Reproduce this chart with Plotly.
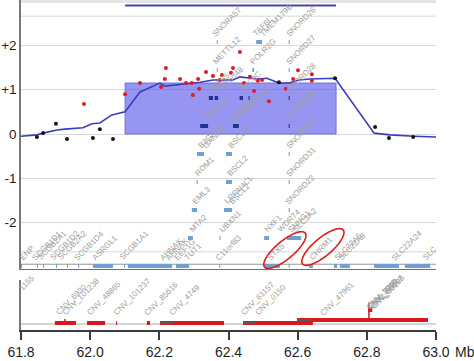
import math
import plotly.graph_objects as go

# ---------------- data ----------------
# smoothed copy-number profile (Mb, log-ratio)
seg_x = [61.800, 61.846, 61.864, 61.904, 61.927, 61.979, 62.005, 62.028, 62.063, 62.101,
         62.144, 62.193, 62.202, 62.216, 62.280, 62.318, 62.355, 62.413, 62.433, 62.462,
         62.482, 62.511, 62.546, 62.575, 62.604, 62.636, 62.708, 62.821, 62.867, 62.936, 63.003]
seg_y = [-0.05, -0.02, 0.02, 0.09, 0.11, 0.14, 0.23, 0.25, 0.43, 0.50,
         0.95, 1.11, 1.15, 1.08, 1.13, 1.17, 1.22, 1.22, 1.29, 1.26,
         1.24, 1.26, 1.15, 1.15, 1.22, 1.24, 1.26, 0.02, -0.02, -0.05, -0.07]

# probes called as gained (red) and neutral (black)
gain_x = [61.982, 62.101, 62.144, 62.219, 62.216, 62.205, 62.260, 62.277, 62.294, 62.297,
          62.312, 62.315, 62.335, 62.355, 62.375, 62.381, 62.407, 62.413, 62.433, 62.445,
          62.462, 62.474, 62.485, 62.497, 62.517, 62.566, 62.587, 62.601, 62.641, 62.641]
gain_y = [0.68, 0.90, 1.15, 1.49, 1.24, 1.06, 1.24, 1.15, 1.15, 0.88,
          1.24, 1.02, 1.40, 1.31, 1.22, 1.33, 1.38, 1.49, 1.85, 1.15,
          1.29, 0.97, 1.20, 1.22, 0.74, 1.02, 1.24, 1.44, 1.35, 1.20]
neutral_x = [61.846, 61.864, 61.901, 61.933, 62.008, 62.028, 62.066, 62.546, 62.708,
             62.824, 62.864, 62.934]
neutral_y = [-0.07, 0.02, 0.23, -0.11, -0.09, 0.11, -0.11, 1.17, 1.26,
             0.16, -0.09, -0.07]

# called gained segment
box_start = 62.101
box_end = 62.711
box_value = 1.15
region_level = 2.90

# gene track: blocks (start, end, slot)
gene_start = [62.480, 62.366, 62.574,
              62.366, 62.469, 62.574,
              62.343, 62.360, 62.432, 62.458, 62.574,
              62.318, 62.413, 62.574,
              62.309, 62.393, 62.574,
              62.308, 62.393, 62.574,
              62.294, 62.387, 62.574,
              62.283, 62.374, 62.503, 62.569,
              62.008, 62.109, 62.248, 62.503, 62.574, 62.633, 62.705, 62.722, 62.821, 62.910,
              61.800, 61.846, 61.864, 61.901, 61.933, 61.965, 62.098, 62.373]
gene_end = [62.497, 62.369, 62.577,
            62.369, 62.474, 62.577,
            62.355, 62.370, 62.442, 62.461, 62.577,
            62.341, 62.430, 62.577,
            62.329, 62.410, 62.577,
            62.311, 62.410, 62.577,
            62.309, 62.410, 62.577,
            62.297, 62.377, 62.517, 62.610,
            62.066, 62.237, 62.286, 62.549, 62.577, 62.644, 62.714, 62.751, 62.893, 62.983,
            61.803, 61.849, 61.867, 61.904, 61.936, 61.968, 62.101, 62.376]
gene_slot = [1, 1, 1,
             2, 2, 2,
             3, 3, 3, 3, 3,
             4, 4, 4,
             5, 5, 5,
             6, 6, 6,
             7, 7, 7,
             8, 8, 8, 8,
             9, 9, 9, 9, 9, 9, 9, 9, 9, 9,
             9, 9, 9, 9, 9, 9, 9, 9]

gene_names = ["SNORA57", "TAF6L", "TMEM179B", "SNORD26",
              "METTL12", "POLR2G", "SNORD27",
              "INTS5", "C11orf48", "TTC9C", "SNORD28",
              "GANAB", "GNG3", "HNRNPUL2", "SNORD29",
              "B3GAT3", "GANAB", "BSCL2", "SNORD30",
              "ROM1", "BSCL2", "SNORD31",
              "EML3", "LRRN4CL", "BSCL2", "SNORD22",
              "MTA2", "UBXN1", "NXF1", "WDR74", "SNHG1", "SLC3A2",
              "ENP", "SCGB1D1", "SCGB2A1", "SCGB1D2", "SCGB2A2", "SCGB1D4", "ASRGL1",
              "SCGB1A1", "AHNAK", "AHNAK", "EEF1G", "TUT1", "C11orf83", "STX5",
              "CHRM1", "SLC22A6", "SLC22A8", "SLC22A24", "SLC"]
gene_label_x = [62.361, 62.477, 62.497, 62.575,
                62.361, 62.471, 62.575,
                62.355, 62.375, 62.442, 62.575,
                62.338, 62.413, 62.430, 62.575,
                62.318, 62.332, 62.407, 62.575,
                62.309, 62.404, 62.575,
                62.303, 62.396, 62.410, 62.572,
                62.294, 62.381, 62.511, 62.549, 62.578, 62.592,
                61.803, 61.840, 61.855, 61.890, 61.913, 61.962, 62.014,
                62.092, 62.208, 62.225, 62.251, 62.280, 62.370, 62.520,
                62.641, 62.714, 62.725, 62.879, 62.968]
gene_label_slot = [1, 1, 1, 1,
                   2, 2, 2,
                   3, 3, 3, 3,
                   4, 4, 4, 4,
                   5, 5, 5, 5,
                   6, 6, 6,
                   7, 7, 7, 7,
                   8, 8, 8, 8, 8, 8,
                   9, 9, 9, 9, 9, 9, 9,
                   9, 9, 9, 9, 9, 9, 9,
                   9, 9, 9, 9, 9]

# CNV track (start, end, level)
cnv_start = [61.898, 61.991, 62.075, 62.164, 62.202, 62.442, 62.598]
cnv_end = [61.959, 62.043, 62.078, 62.173, 62.387, 62.644, 62.977]
cnv_level = [0, 0, 0, 0, 0, 0, 1]
cnv_dark_start = [62.202, 62.442, 62.598]
cnv_dark_end = [62.240, 62.477, 62.636]
cnv_dark_level = [0, 0, 1]
cnv_stack_x = 62.806
cnv_names = ["1155", "CNV_6930", "CNV_101238", "CNV_48865", "CNV_101237", "CNV_85616",
             "CNV_4749", "CNV_61157", "CNV_0150", "CNV_47961",
             "CNV_1148", "CNV_3215", "CNV_7722", "CNV_85617", "CNV_30198"]
cnv_label_x = [61.803, 61.908, 61.927, 61.997, 62.075, 62.164,
               62.237, 62.442, 62.485, 62.673,
               62.806, 62.809, 62.812, 62.815, 62.818]
cnv_label_row = [2, 0, 0, 0, 0, 0, 0, 0, 0, 0, 1, 1, 1, 1, 1]

x_ticks = [61.8, 62.0, 62.2, 62.4, 62.6, 62.8, 63.0]
x_ticktext = ["61.8", "62.0", "62.2", "62.4", "62.6", "62.8", "63.0"]
y_ticks = [2, 1, 0, -1, -2]
y_ticktext = ["+2", "+1", "0", "-1", "-2"]

# ---------------- layout constants ----------------
W, H = 474, 361
ML, MR, MT, MB = 21, 38, 0, 31
PW, PH = W - ML - MR, H - MT - MB
XR = [61.8, 63.0]
YR = [-3.07, 3.025]
TOP_DOM = [(PH - 270) / PH, 1.0]
BOT_DOM = [0.0, 50 / PH]
px_per_mb = PW / (XR[1] - XR[0])
px_per_y = PH * (TOP_DOM[1] - TOP_DOM[0]) / (YR[1] - YR[0])
ROW_TOP = 3.025 - 14 / px_per_y
ROW_STEP = 28 / px_per_y


def slot_y(s):
    return ROW_TOP - s * ROW_STEP


FONT = "Liberation Sans, Arial, Helvetica, sans-serif"
LABEL_COLOR = "rgb(160,160,160)"

fig = go.Figure()

# gene blocks
light_x, light_y, dark_x, dark_y = [], [], [], []
for s0, e0, sl in zip(gene_start, gene_end, gene_slot):
    yv = slot_y(sl)
    inside = (s0 >= box_start and e0 <= box_end and 0 <= yv <= box_value)
    tx, ty = (dark_x, dark_y) if inside else (light_x, light_y)
    tx += [s0, e0, None]
    ty += [yv, yv, None]

fig.add_trace(go.Scatter(x=[XR[0], XR[1]], y=[slot_y(9) + 0.04] * 2, mode="lines",
                         line=dict(color="rgb(150,150,150)", width=1), hoverinfo="skip"))
fig.add_trace(go.Scatter(x=light_x, y=light_y, mode="lines",
                         line=dict(color="rgb(110,160,210)", width=4), hoverinfo="skip"))
fig.add_trace(go.Scatter(x=dark_x, y=dark_y, mode="lines",
                         line=dict(color="rgb(35,50,140)", width=4), hoverinfo="skip"))

# region line
fig.add_trace(go.Scatter(x=[box_start, box_end], y=[region_level, region_level], mode="lines",
                         line=dict(color="rgb(70,70,180)", width=2), hoverinfo="skip"))

# profile
fig.add_trace(go.Scatter(x=seg_x, y=seg_y, mode="lines",
                         line=dict(color="rgb(60,60,190)", width=1.6), hoverinfo="skip"))
fig.add_trace(go.Scatter(x=gain_x, y=gain_y, mode="markers",
                         marker=dict(color="rgb(225,25,35)", size=4), hoverinfo="skip"))
fig.add_trace(go.Scatter(x=neutral_x, y=neutral_y, mode="markers",
                         marker=dict(color="rgb(20,20,20)", size=4), hoverinfo="skip"))

# CNV track
lvl_y = [0.14, 0.20, 0.9]
rx, ry = [], []
for s0, e0, lv in zip(cnv_start, cnv_end, cnv_level):
    rx += [s0, e0, None]
    ry += [lvl_y[lv], lvl_y[lv], None]
gx, gy = [], []
for s0, e0, lv in zip(cnv_dark_start, cnv_dark_end, cnv_dark_level):
    gx += [s0, e0, None]
    gy += [lvl_y[lv], lvl_y[lv], None]
fig.add_trace(go.Scatter(x=[XR[0], XR[1]], y=[0.12, 0.12], yaxis="y2", mode="lines",
                         line=dict(color="rgb(170,170,170)", width=1), hoverinfo="skip"))
fig.add_trace(go.Scatter(x=rx, y=ry, yaxis="y2", mode="lines",
                         line=dict(color="rgb(215,25,30)", width=4), hoverinfo="skip"))
fig.add_trace(go.Scatter(x=gx, y=gy, yaxis="y2", mode="lines",
                         line=dict(color="rgb(90,90,90)", width=2), hoverinfo="skip"))
fig.add_trace(go.Scatter(x=[cnv_stack_x, cnv_stack_x, None, 61.927, 61.927],
                         y=[0.2, 0.55, None, 0.14, 0.22], yaxis="y2", mode="lines",
                         line=dict(color="rgb(215,25,30)", width=1.5), hoverinfo="skip"))
fig.add_trace(go.Scatter(x=[cnv_stack_x + 0.004, cnv_stack_x + 0.004], y=[0.36, 0.46], yaxis="y2",
                         mode="lines", line=dict(color="rgb(215,25,30)", width=4), hoverinfo="skip"))

shapes = []
# called box
shapes.append(dict(type="rect", xref="x", yref="y", x0=box_start, x1=box_end, y0=0, y1=box_value,
                   fillcolor="rgba(95,95,235,0.66)", line=dict(color="rgb(110,110,225)", width=1),
                   layer="between"))
# top grey band and separator lines
shapes.append(dict(type="rect", xref="paper", yref="y", x0=0, x1=1, y0=2.955, y1=3.025,
                   fillcolor="rgb(228,228,228)", line=dict(width=0), layer="below"))
for yy in [2.66, -2.66]:
    shapes.append(dict(type="line", xref="paper", yref="y", x0=0, x1=1, y0=yy, y1=yy,
                       line=dict(color="rgb(215,215,215)", width=1), layer="below"))
shapes.append(dict(type="line", xref="paper", yref="y", x0=0, x1=1, y0=-3.07, y1=-3.07,
                   line=dict(color="rgb(110,110,110)", width=2)))


# ellipses around the two genes of interest
def ellipse_path(cx, cy, a_px, b_px, ang_deg):
    th = math.radians(ang_deg)
    pts = []
    for i in range(61):
        t = 2 * math.pi * i / 60
        dx = a_px * math.cos(th) * math.cos(t) - b_px * math.sin(th) * math.sin(t)
        dy = a_px * math.sin(th) * math.cos(t) + b_px * math.cos(th) * math.sin(t)
        pts.append((cx + dx / px_per_mb, cy + dy / px_per_y))
    return "M " + " L ".join(f"{x:.5f},{y:.5f}" for x, y in pts) + " Z"


for cx, cy in [(62.563, -2.62), (62.673, -2.55)]:
    shapes.append(dict(type="path", xref="x", yref="y", path=ellipse_path(cx, cy, 26.5, 9, 40),
                       line=dict(color="rgb(220,30,30)", width=1.6)))

annotations = []
for name, lx, ls in zip(gene_names, gene_label_x, gene_label_slot):
    annotations.append(dict(x=lx, y=slot_y(ls) + 1 / px_per_y, xref="x", yref="y", text=name,
                            textangle=-45, showarrow=False, xanchor="left", yanchor="bottom",
                            xshift=-7, font=dict(size=8, color=LABEL_COLOR, family=FONT)))
lab_row_y = [0.20, 0.32, 0.70]
for name, lx, lr in zip(cnv_names, cnv_label_x, cnv_label_row):
    annotations.append(dict(x=lx, y=lab_row_y[lr], xref="x", yref="y2", text=name,
                            textangle=-45, showarrow=False, xanchor="left", yanchor="bottom",
                            xshift=-7, font=dict(size=8, color=LABEL_COLOR, family=FONT)))
annotations.append(dict(x=1.0, y=-22 / PH, xref="paper", yref="paper", text="Mb",
                        showarrow=False, xanchor="left", yanchor="middle", xshift=17,
                        font=dict(size=14, color="rgb(30,30,30)", family=FONT)))

fig.update_layout(
    template="none",
    width=W, height=H,
    margin=dict(l=ML, r=MR, t=MT, b=MB, pad=0, autoexpand=False),
    plot_bgcolor="white", paper_bgcolor="white",
    showlegend=False,
    shapes=shapes,
    annotations=annotations,
    xaxis=dict(range=XR, anchor="y2", tickvals=x_ticks, ticktext=x_ticktext, automargin=False,
               ticks="outside", ticklen=8, tickwidth=1.5, tickcolor="rgb(60,60,60)",
               showline=True, linecolor="rgb(60,60,60)", linewidth=1.5, showgrid=False,
               zeroline=False, tickfont=dict(size=14, color="rgb(30,30,30)", family=FONT)),
    yaxis=dict(domain=TOP_DOM, range=YR, tickvals=y_ticks, ticktext=y_ticktext, automargin=False,
               showgrid=True, gridcolor="rgb(215,215,215)", gridwidth=1, zeroline=False,
               showline=True, linecolor="rgb(120,120,120)", linewidth=1.5, ticks="",
               tickfont=dict(size=13.5, color="rgb(30,30,30)", family=FONT)),
    yaxis2=dict(domain=BOT_DOM, range=[0, 1], showgrid=False, zeroline=False, automargin=False,
                showline=True, linecolor="rgb(120,120,120)", linewidth=1.5,
                showticklabels=False, ticks=""),
)

fig.write_html("out.html", config={"displayModeBar": False},
               post_script="document.body.style.margin='0px';document.body.style.padding='0px';")
